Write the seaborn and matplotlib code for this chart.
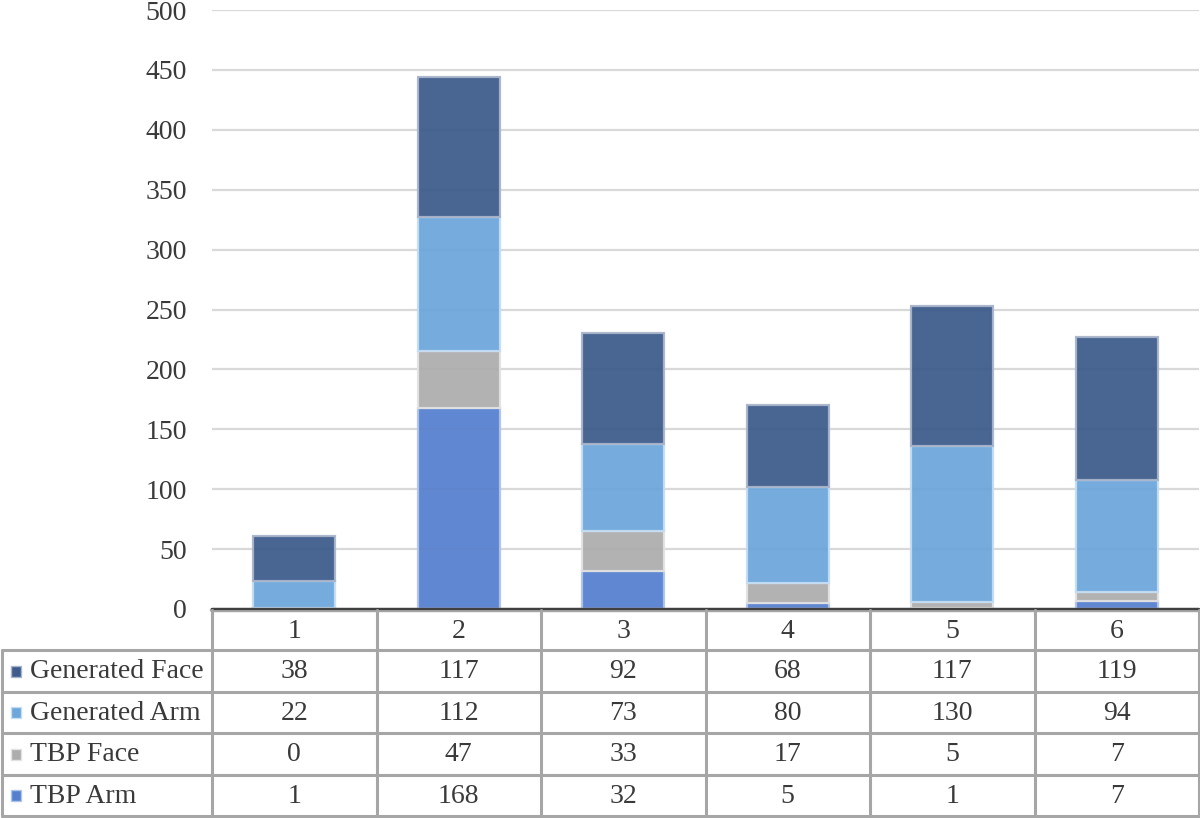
import matplotlib
matplotlib.use("Agg")
import matplotlib.pyplot as plt
import seaborn as sns
import pandas as pd
import matplotlib.colors as mcolors
from matplotlib.lines import Line2D
from matplotlib.patches import Rectangle

# ---- data ----
categories = [1, 2, 3, 4, 5, 6]
series_names = ["Generated Face", "Generated Arm", "TBP Face", "TBP Arm"]
generated_face = [38, 117, 92, 68, 117, 119]
generated_arm = [22, 112, 73, 80, 130, 94]
tbp_face = [0, 47, 33, 17, 5, 7]
tbp_arm = [1, 168, 32, 5, 1, 7]
y_ticks = [0, 50, 100, 150, 200, 250, 300, 350, 400, 450, 500]

series_values = [generated_face, generated_arm, tbp_face, tbp_arm]
fill_colors = ["#3D5C8B", "#6CA6DB", "#ADADAD", "#5680CE"]
edge_colors = ["#A9B5CB", "#C3DDF3", "#E2E2E2", "#AFC4EC"]
text_color = "#3A3A3A"

rows = []
for name, vals in zip(series_names, series_values):
    for c, v in zip(categories, vals):
        rows.append({"cat": c, "series": name, "value": v})
df = pd.DataFrame(rows)

sns.set_theme(style="white")
plt.rcParams["font.family"] = ["Liberation Serif", "DejaVu Serif"]
FS = 20

W, H = 1200, 818
fig = plt.figure(figsize=(W / 100, H / 100), dpi=100)

left_px, right_px, top_px, bottom_px = 212, 1199, 10, 609
ax = fig.add_axes([left_px / W, 1 - bottom_px / H,
                   (right_px - left_px) / W, (bottom_px - top_px) / H])

palette = dict(zip(series_names, fill_colors))
sns.histplot(data=df, x="cat", weights="value", hue="series",
             hue_order=series_names, multiple="stack", discrete=True,
             shrink=0.5, palette=palette, alpha=1.0, linewidth=1.6,
             legend=False, ax=ax, zorder=3)

# edge colours per series
fill_rgb = [mcolors.to_rgb(c) for c in fill_colors]
for p in ax.patches:
    fc = p.get_facecolor()[:3]
    idx = min(range(len(fill_rgb)),
              key=lambda i: sum((a - b) ** 2 for a, b in zip(fc, fill_rgb[i])))
    p.set_edgecolor(edge_colors[idx])
    p.set_facecolor(fill_colors[idx])
    p.set_alpha(0.94)

ax.set_xlim(0.5, 6.5)
ax.set_ylim(0, 500)
ax.set_yticks(y_ticks)
ax.set_yticklabels([str(t) for t in y_ticks], fontsize=FS, color=text_color)
ax.tick_params(axis="y", length=0, pad=18)
ax.set_xticks([])
ax.set_xlabel("")
ax.set_ylabel("")
for s in ax.spines.values():
    s.set_visible(False)
ax.yaxis.grid(True, color="#D9D9D9", linewidth=1.6, zorder=0)
ax.set_axisbelow(True)

# ---- data table drawn in pixel coordinates ----
tab = fig.add_axes([0, 0, 1, 1], zorder=5)
tab.set_xlim(0, W)
tab.set_ylim(H, 0)
tab.axis("off")
tab.patch.set_alpha(0)

grid_c = "#A6A6A6"
lw = 2.2
ncol = len(categories)
colw = (right_px - left_px) / ncol
col_edges = [left_px + i * colw for i in range(ncol + 1)]
header_top, header_bot = 610, 650
row_h = (816 - header_bot) / len(series_names)
row_edges = [header_bot + i * row_h for i in range(len(series_names) + 1)]

# header top line (axis baseline)
tab.add_line(Line2D([left_px, right_px], [header_top, header_top],
                    color=grid_c, lw=3.2))
tab.add_line(Line2D([left_px, right_px], [header_top - 1, header_top - 1],
                    color="#404040", lw=1.6))
# horizontal lines
for y in row_edges:
    tab.add_line(Line2D([2, right_px], [y, y], color=grid_c, lw=lw))
# vertical lines
for x in col_edges:
    tab.add_line(Line2D([x, x], [header_top, row_edges[-1]], color=grid_c, lw=lw))
tab.add_line(Line2D([2, 2], [header_bot, row_edges[-1]], color=grid_c, lw=lw))

# header labels
for i, c in enumerate(categories):
    tab.text((col_edges[i] + col_edges[i + 1]) / 2, (header_top + header_bot) / 2 + 1,
             str(c), ha="center", va="center", fontsize=FS, color=text_color)

# rows
for r, (name, vals) in enumerate(zip(series_names, series_values)):
    yc = (row_edges[r] + row_edges[r + 1]) / 2 + 1
    tab.add_patch(Rectangle((11, yc - 6), 10, 11, facecolor=fill_colors[r],
                            edgecolor=edge_colors[r], lw=1.0))
    tab.text(30, yc, name, ha="left", va="center", fontsize=FS, color=text_color)
    for i, v in enumerate(vals):
        tab.text((col_edges[i] + col_edges[i + 1]) / 2, yc, str(v),
                 ha="center", va="center", fontsize=FS, color=text_color)

fig.savefig("out.png", dpi=100, facecolor="white")
